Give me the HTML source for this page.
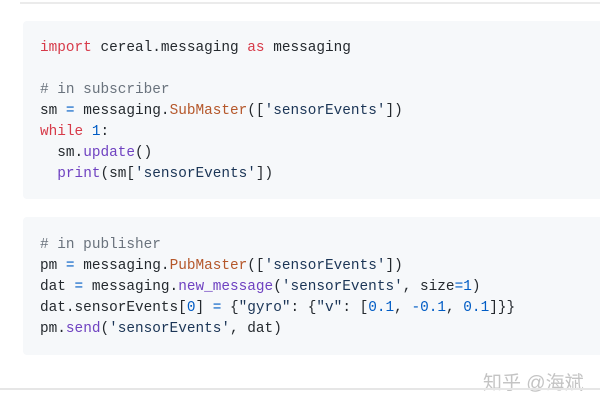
<!DOCTYPE html>
<html><head><meta charset="utf-8"><style>
body{margin:0;width:600px;height:403px;background:#fff;position:relative;overflow:hidden;font-family:"Liberation Mono",monospace;}
.top{position:absolute;left:20px;right:0;top:2px;height:2px;background:#ebebeb;}
.bot{position:absolute;left:0;right:0;top:388px;height:2px;background:#e6e6e6;}
.box{position:absolute;left:23px;width:600px;background:#f6f8fa;border-radius:4px;}
pre{margin:0;position:absolute;left:40px;font-family:"Liberation Mono",monospace;font-size:14.4px;line-height:21px;color:#24292e;}
.k{color:#d73a49}.c{color:#6a737d}.t{color:#b5572a}.f{color:#6f42c1}.n{color:#005cc5}.s{color:#1b3556}.o{color:#005cc5}
.wm{position:absolute;left:483px;top:368px;font-family:"Liberation Sans","Noto Sans CJK SC",sans-serif;font-size:19px;color:#c4c4c4;}
</style></head><body>
<div class="top"></div>
<div class="box" style="top:21px;height:178px"></div>
<pre style="top:38px"><span class="k">import</span> cereal.messaging <span class="k">as</span> messaging

<span class="c"># in subscriber</span>
sm <span class="o">=</span> messaging.<span class="t">SubMaster</span>([<span class="s">'sensorEvents'</span>])
<span class="k">while</span> <span class="n">1</span>:
  sm.<span class="f">update</span>()
  <span class="f">print</span>(sm[<span class="s">'sensorEvents'</span>])</pre>
<div class="box" style="top:217px;height:138px"></div>
<pre style="top:235px"><span class="c"># in publisher</span>
pm <span class="o">=</span> messaging.<span class="t">PubMaster</span>([<span class="s">'sensorEvents'</span>])
dat <span class="o">=</span> messaging.<span class="f">new_message</span>(<span class="s">'sensorEvents'</span>, size<span class="o">=</span><span class="n">1</span>)
dat.sensorEvents[<span class="n">0</span>] <span class="o">=</span> {<span class="s">"gyro"</span>: {<span class="s">"v"</span>: [<span class="n">0.1</span>, <span class="o">-</span><span class="n">0.1</span>, <span class="n">0.1</span>]}}
pm.<span class="f">send</span>(<span class="s">'sensorEvents'</span>, dat)</pre>
<div class="wm">知乎 @海斌</div>
<div class="bot"></div>
</body></html>
